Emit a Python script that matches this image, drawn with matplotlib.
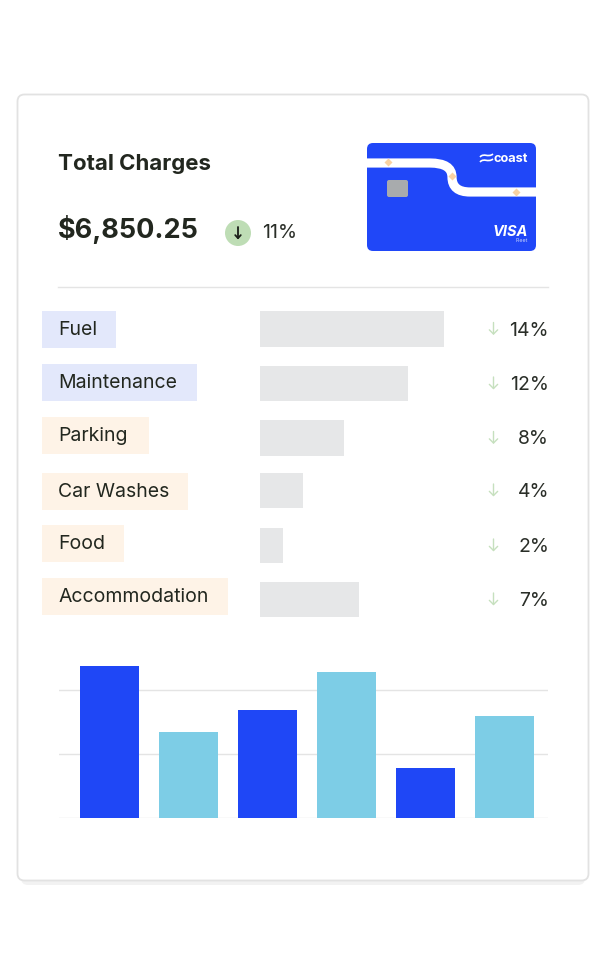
import matplotlib
matplotlib.use("Agg")
import matplotlib.pyplot as plt
from matplotlib.patches import FancyBboxPatch, Rectangle, Circle, PathPatch
from matplotlib.path import Path

plt.rcParams['font.family'] = ['Inter', 'DejaVu Sans']

W, H = 601, 975

# ---- data ----
categories = ["Fuel", "Maintenance", "Parking", "Car Washes", "Food", "Accommodation"]
amounts = [184, 148, 84, 43, 23, 99]
changes = ["14%", "12%", "8%", "4%", "2%", "7%"]
label_colors = ["#E3E8FB", "#E3E8FB", "#FEF3E7", "#FEF3E7", "#FEF3E7", "#FEF3E7"]
column_values = [119, 67, 84, 114, 39, 80]
column_colors = ["#1F47F6", "#7DCDE6", "#1F47F6", "#7DCDE6", "#1F47F6", "#7DCDE6"]
title = "Total Charges"
total = "$6,850.25"
total_change = "11%"

# ---- layout (pixels) ----
row_centers = [329, 383.5, 438, 490.5, 545.5, 599.5]
label_centers = [329.5, 382.5, 435.5, 491.5, 543.5, 596.5]
label_right = [116, 197, 149, 188, 124, 228]

fig = plt.figure(figsize=(W / 100, H / 100), dpi=100, facecolor="white")


def px_axes(left, top, right, bottom, z=2):
    a = fig.add_axes([left / W, 1 - bottom / H, (right - left) / W, (bottom - top) / H], zorder=z)
    a.patch.set_alpha(0)
    a.set_axis_off()
    return a


# background layer in pixel coordinates
bg = fig.add_axes([0, 0, 1, 1], zorder=1)
bg.set_xlim(0, W)
bg.set_ylim(H, 0)
bg.set_axis_off()

bg.add_patch(FancyBboxPatch((21, 100), 564, 785, boxstyle="round,pad=0,rounding_size=7",
                            fc="#F2F2F2", ec="none"))
bg.add_patch(FancyBboxPatch((17.5, 94.5), 571, 786, boxstyle="round,pad=0,rounding_size=7",
                            fc="white", ec="#E2E2E2", lw=1.3))

bg.text(58, 164, title, fontsize=16, fontweight="bold", color="#22271F", va="center", ha="left")
bg.text(58, 230, total, fontsize=19.5, fontweight="bold", color="#22271F", va="center", ha="left")
bg.add_patch(Circle((238, 233), 13, fc="#BEDDB5", ec="none"))
bg.annotate("", xy=(238, 239.5), xytext=(238, 227),
            arrowprops=dict(arrowstyle="->,head_length=0.22,head_width=0.2", color="#1A1F18", lw=1.3,
                            shrinkA=0, shrinkB=0))
bg.text(262, 233.5, total_change, fontsize=14, color="#2A2E28", va="center", ha="left")
bg.plot([58, 548], [287, 287], color="#E4E4E4", lw=1)

# card
card = FancyBboxPatch((367, 143), 169, 108, boxstyle="round,pad=0,rounding_size=6", fc="#2047F8", ec="none")
bg.add_patch(card)
stripe = Path([(367, 163), (430, 163), (452, 163), (452, 177), (452, 192), (470, 192), (536, 192)],
              [Path.MOVETO, Path.LINETO, Path.CURVE3, Path.CURVE3, Path.CURVE3, Path.CURVE3, Path.LINETO])
bg.add_patch(PathPatch(stripe, fc="none", ec="white", lw=6.6, capstyle="butt"))
for (x, y) in [(388, 162), (451.5, 176), (516, 192)]:
    bg.plot([x], [y], marker="D", ms=3.6, color="#F9D2A2", mec="none")
bg.add_patch(FancyBboxPatch((387, 180), 21, 17, boxstyle="round,pad=0,rounding_size=2", fc="#A8ABAD", ec="none"))
bg.text(528, 158.5, "coast", fontsize=9.2, fontweight="bold", color="white", va="center", ha="right")
for yy in (155.5, 160.5):
    wave = Path([(480, yy + 1.5), (484, yy - 3), (488, yy + 2.5), (493, yy - 1.5)],
                [Path.MOVETO, Path.CURVE4, Path.CURVE4, Path.CURVE4])
    bg.add_patch(PathPatch(wave, fc="none", ec="white", lw=1.2))
bg.text(528, 232, "VISA", fontsize=10.5, fontweight="bold", style="italic", color="white", va="center", ha="right")
bg.text(528, 241, "Fleet", fontsize=3.8, color="#C9D3FC", va="center", ha="right")

# category rows
for name, cy, right, col, chg, ry in zip(categories, label_centers, label_right, label_colors, changes, row_centers):
    bg.add_patch(Rectangle((42, cy - 18.5), right - 42, 37, fc=col, ec="none"))
    bg.text(58.5, cy + 0.5, name, fontsize=14, color="#22271F", va="center", ha="left")
    bg.annotate("", xy=(493.5, ry + 6), xytext=(493.5, ry - 6.5),
                arrowprops=dict(arrowstyle="->,head_length=0.3,head_width=0.3", color="#C6E0BE", lw=1,
                                shrinkA=0, shrinkB=0))
    bg.text(549, ry + 1.5, chg, fontsize=14, color="#2A2E28", va="center", ha="right")

# horizontal bars
hax = px_axes(260, 300, 548, 630)
hax.barh(row_centers, amounts, height=35.5, color="#E6E7E8")
hax.set_xlim(0, 288)
hax.set_ylim(630, 300)

# column chart
cax = fig.add_axes([59 / W, 1 - 818 / H, (548 - 59) / W, (818 - 650) / H], zorder=3)
cax.patch.set_alpha(0)
xs = list(range(len(column_values)))
cax.set_axisbelow(True)
cax.bar(xs, column_values, width=59 / 79, color=column_colors, zorder=3)
cax.set_xlim(-50.5 / 79, (548 - 109.5) / 79)
cax.set_ylim(0, 168 * 50 / 64)
cax.set_yticks([0, 50, 100])
cax.set_xticks([])
cax.yaxis.grid(True, color="#E4E4E4", lw=1)
cax.tick_params(left=False, labelleft=False)
for s in cax.spines.values():
    s.set_visible(False)

fig.savefig("out.png", dpi=100, facecolor="white")
